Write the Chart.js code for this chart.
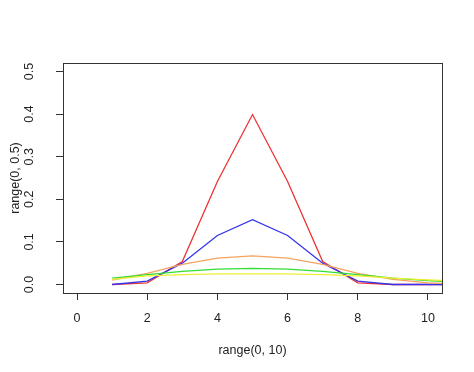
<!DOCTYPE html>
<html>
<head>
<meta charset="utf-8">
<script src="https://cdn.jsdelivr.net/npm/chart.js@4.4.0/dist/chart.umd.min.js"></script>
<style>
  html, body { margin: 0; padding: 0; background: #fff; }
  #wrap { width: 474px; height: 372px; }
</style>
</head>
<body>
<div id="wrap"><canvas id="plot" width="474" height="372"></canvas></div>
<script>
// x positions of the points
const xs = [1, 2, 3, 4, 5, 6, 7, 8, 9, 10, 11];
// one curve per colour
const redVals    = [0.000, 0.004, 0.054, 0.242, 0.399, 0.242, 0.054, 0.004, 0.000, 0.000, 0.000];
const blueVals   = [0.000, 0.008, 0.050, 0.115, 0.152, 0.115, 0.050, 0.008, 0.000, 0.000, 0.000];
const orangeVals = [0.010, 0.026, 0.047, 0.062, 0.067, 0.062, 0.047, 0.026, 0.012, 0.004, 0.001];
const greenVals  = [0.015, 0.023, 0.031, 0.036, 0.038, 0.036, 0.031, 0.023, 0.015, 0.009, 0.005];
const yellowVals = [0.012, 0.020, 0.023, 0.025, 0.025, 0.025, 0.023, 0.020, 0.015, 0.011, 0.008];
// tick labels
const xTicks = [0, 2, 4, 6, 8, 10];
const yTicks = [0, 0.1, 0.2, 0.3, 0.4, 0.5];

const pts = vals => xs.map((x, i) => ({x: x, y: vals[i]}));

const line = (vals, col) => ({
    data: pts(vals),
    borderColor: col,
    backgroundColor: col,
    borderWidth: 1.3,
    pointRadius: 0,
    tension: 0,
    fill: false
});

// box round the plot region, like R's bty="o"
const boxPlugin = {
    id: 'box',
    afterDraw(chart) {
        const a = chart.chartArea;
        const ctx = chart.ctx;
        ctx.save();
        ctx.strokeStyle = '#333';
        ctx.lineWidth = 1;
        ctx.strokeRect(a.left + 0.5, a.top + 0.5, a.right - a.left, a.bottom - a.top);
        ctx.restore();
    }
};

const font = {family: 'Liberation Sans', size: 12.5};

const config = {
    type: 'line',
    data: {
        datasets: [
            line(yellowVals, '#eeee33'),
            line(greenVals, '#33dd33'),
            line(orangeVals, '#f4a460'),
            line(blueVals, '#3333ee'),
            line(redVals, '#ee3333')
        ]
    },
    options: {
        responsive: false,
        animation: false,
        events: [],
        layout: {
            padding: {left: 0, right: 32, top: 63, bottom: 14}
        },
        plugins: {
            legend: {display: false},
            tooltip: {enabled: false}
        },
        scales: {
            x: {
                type: 'linear',
                min: -0.4,
                max: 10.4,
                afterBuildTicks: s => { s.ticks = xTicks.map(v => ({value: v})); },
                afterFit: s => { s.height = 65; },
                ticks: {
                    color: '#222',
                    font: font,
                    padding: 11,
                    maxRotation: 0
                },
                grid: {
                    drawOnChartArea: false,
                    drawTicks: true,
                    tickLength: 7,
                    color: '#333'
                },
                border: {display: false},
                title: {
                    display: true,
                    text: 'range(0, 10)',
                    color: '#222',
                    font: font,
                    padding: {top: 0, bottom: 0}
                }
            },
            y: {
                type: 'linear',
                min: -0.02,
                max: 0.52,
                afterBuildTicks: s => { s.ticks = yTicks.map(v => ({value: v})); },
                afterFit: s => { s.width = 63; },
                ticks: {
                    color: '#222',
                    font: font,
                    padding: 18,
                    minRotation: 90,
                    maxRotation: 90,
                    crossAlign: 'center',
                    callback: v => v.toFixed(1)
                },
                grid: {
                    drawOnChartArea: false,
                    drawTicks: true,
                    tickLength: 7,
                    color: '#333'
                },
                border: {display: false},
                title: {
                    display: true,
                    text: 'range(0, 0.5)',
                    color: '#222',
                    font: font,
                    padding: {top: 8, bottom: 0}
                }
            }
        }
    },
    plugins: [boxPlugin]
};

var myChart = new Chart(document.getElementById('plot'), config);
</script>
</body>
</html>
